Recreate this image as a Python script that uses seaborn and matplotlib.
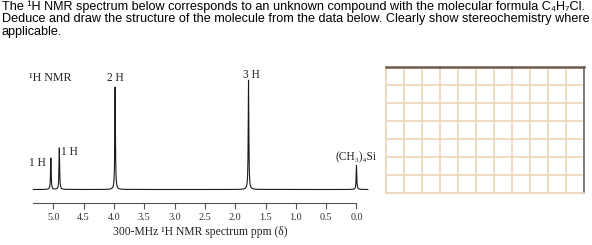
import numpy as np
import pandas as pd
import matplotlib
matplotlib.use("Agg")
import matplotlib.pyplot as plt
import seaborn as sns

# ---- data ----
peak_shifts = [5.04, 4.90, 3.98, 1.78, 0.0]       # ppm
peak_heights = [31.5, 41.5, 102.5, 109.5, 24.0]    # relative intensity
peak_labels = ["1 H", "1 H", "2 H", "3 H", "(CH\u2083)\u2084Si"]
tick_values = [5.0, 4.5, 4.0, 3.5, 3.0, 2.5, 2.0, 1.5, 1.0, 0.5, 0.0]
tick_labels = ["5.0", "4.5", "4.0", "3.5", "3.0", "2.5", "2.0", "1.5", "1.0", "0.5", "0.0"]
peak_width = 0.006  # ppm, half width
ppm_start, ppm_end = 5.33, -0.19

title_lines = [
    "The \u00b9H NMR spectrum below corresponds to an unknown compound with the molecular formula C\u2084H\u2087Cl.",
    "Deduce and draw the structure of the molecule from the data below. Clearly show stereochemistry where",
    "applicable.",
]

sns.set_theme(style="white")
plt.rcParams["font.family"] = ["Liberation Serif", "DejaVu Serif"]

W, H = 592, 245
fig = plt.figure(figsize=(W / 100, H / 100), dpi=100)

# spectrum computed from peak list (Lorentzian line shapes)
x = np.linspace(ppm_start, ppm_end, 8000)
y = np.zeros_like(x)
for s, h in zip(peak_shifts, peak_heights):
    y += h * peak_width**2 / ((x - s) ** 2 + peak_width**2)
df = pd.DataFrame({"ppm": x, "intensity": y})

def px2fig(l, t, r, b):
    return [l / W, (H - b) / H, (r - l) / W, (b - t) / H]

ax = fig.add_axes(px2fig(30, 60, 370, 225))
sns.lineplot(data=df, x="ppm", y="intensity", ax=ax, color="#1a1a1a", linewidth=0.8)
ax.set_xlim(5.384, -0.223)
ax.set_ylim(-35.5, 129.5)
for sp in ["top", "right", "left"]:
    ax.spines[sp].set_visible(False)
ax.spines["bottom"].set_position(("data", -13.5))
ax.spines["bottom"].set_bounds(0.0, 5.33)
ax.spines["bottom"].set_color("#555555")
ax.spines["bottom"].set_linewidth(0.8)
ax.set_yticks([])
ax.set_xticks(tick_values)
ax.set_xticklabels(tick_labels)
ax.tick_params(axis="x", direction="out", length=4, width=0.8, color="#555555",
               labelsize=7.3, pad=3, bottom=True, labelcolor="#333333")
ax.set_xlabel("300-MHz \u00b9H NMR spectrum ppm (\u03b4)", fontsize=8.4, color="#222222", labelpad=3)
ax.set_ylabel("")

# peak labels
lbl_off = [(0.075, "right"), (-0.03, "left"), (0, "center"), (-0.04, "center"), (0.0, "center")]
lbl_y = [26.5, 37.5, 111.5, 114.5, 32.5]
for s, lab, ly, (dx, ha) in zip(peak_shifts, peak_labels, lbl_y, lbl_off):
    ax.text(s + dx, ly, lab, ha=ha, va="center", fontsize=8.3, color="#222222")
ax.text(5.40, 111.5, "\u00b9H NMR", ha="left", va="center", fontsize=8.6, color="#222222")

# title
for i, line in enumerate(title_lines):
    fig.text(2 / W, 1 - (6.5 + 12.6 * i) / H, line, ha="left", va="center",
             fontsize=9.05, color="black", family=["Liberation Sans", "DejaVu Sans"])

# answer grid
gx = fig.add_axes(px2fig(386, 66.7, 584.3, 193.3))
gx.set_xlim(0, 11)
gx.set_ylim(0, 7)
gx.set_xticks(range(12))
gx.set_yticks(range(8))
gx.set_xticklabels([])
gx.set_yticklabels([])
gx.tick_params(length=0)
gx.grid(True, color="#eed6b6", linewidth=1.2)
gx.set_facecolor("white")
for sp in ["left", "bottom"]:
    gx.spines[sp].set_color("#eed6b6")
    gx.spines[sp].set_linewidth(1.2)
gx.spines["top"].set_color("#6e5a4a")
gx.spines["top"].set_linewidth(1.8)
gx.spines["right"].set_color("#666666")
gx.spines["right"].set_linewidth(1.2)

fig.savefig("out.png", dpi=100)
